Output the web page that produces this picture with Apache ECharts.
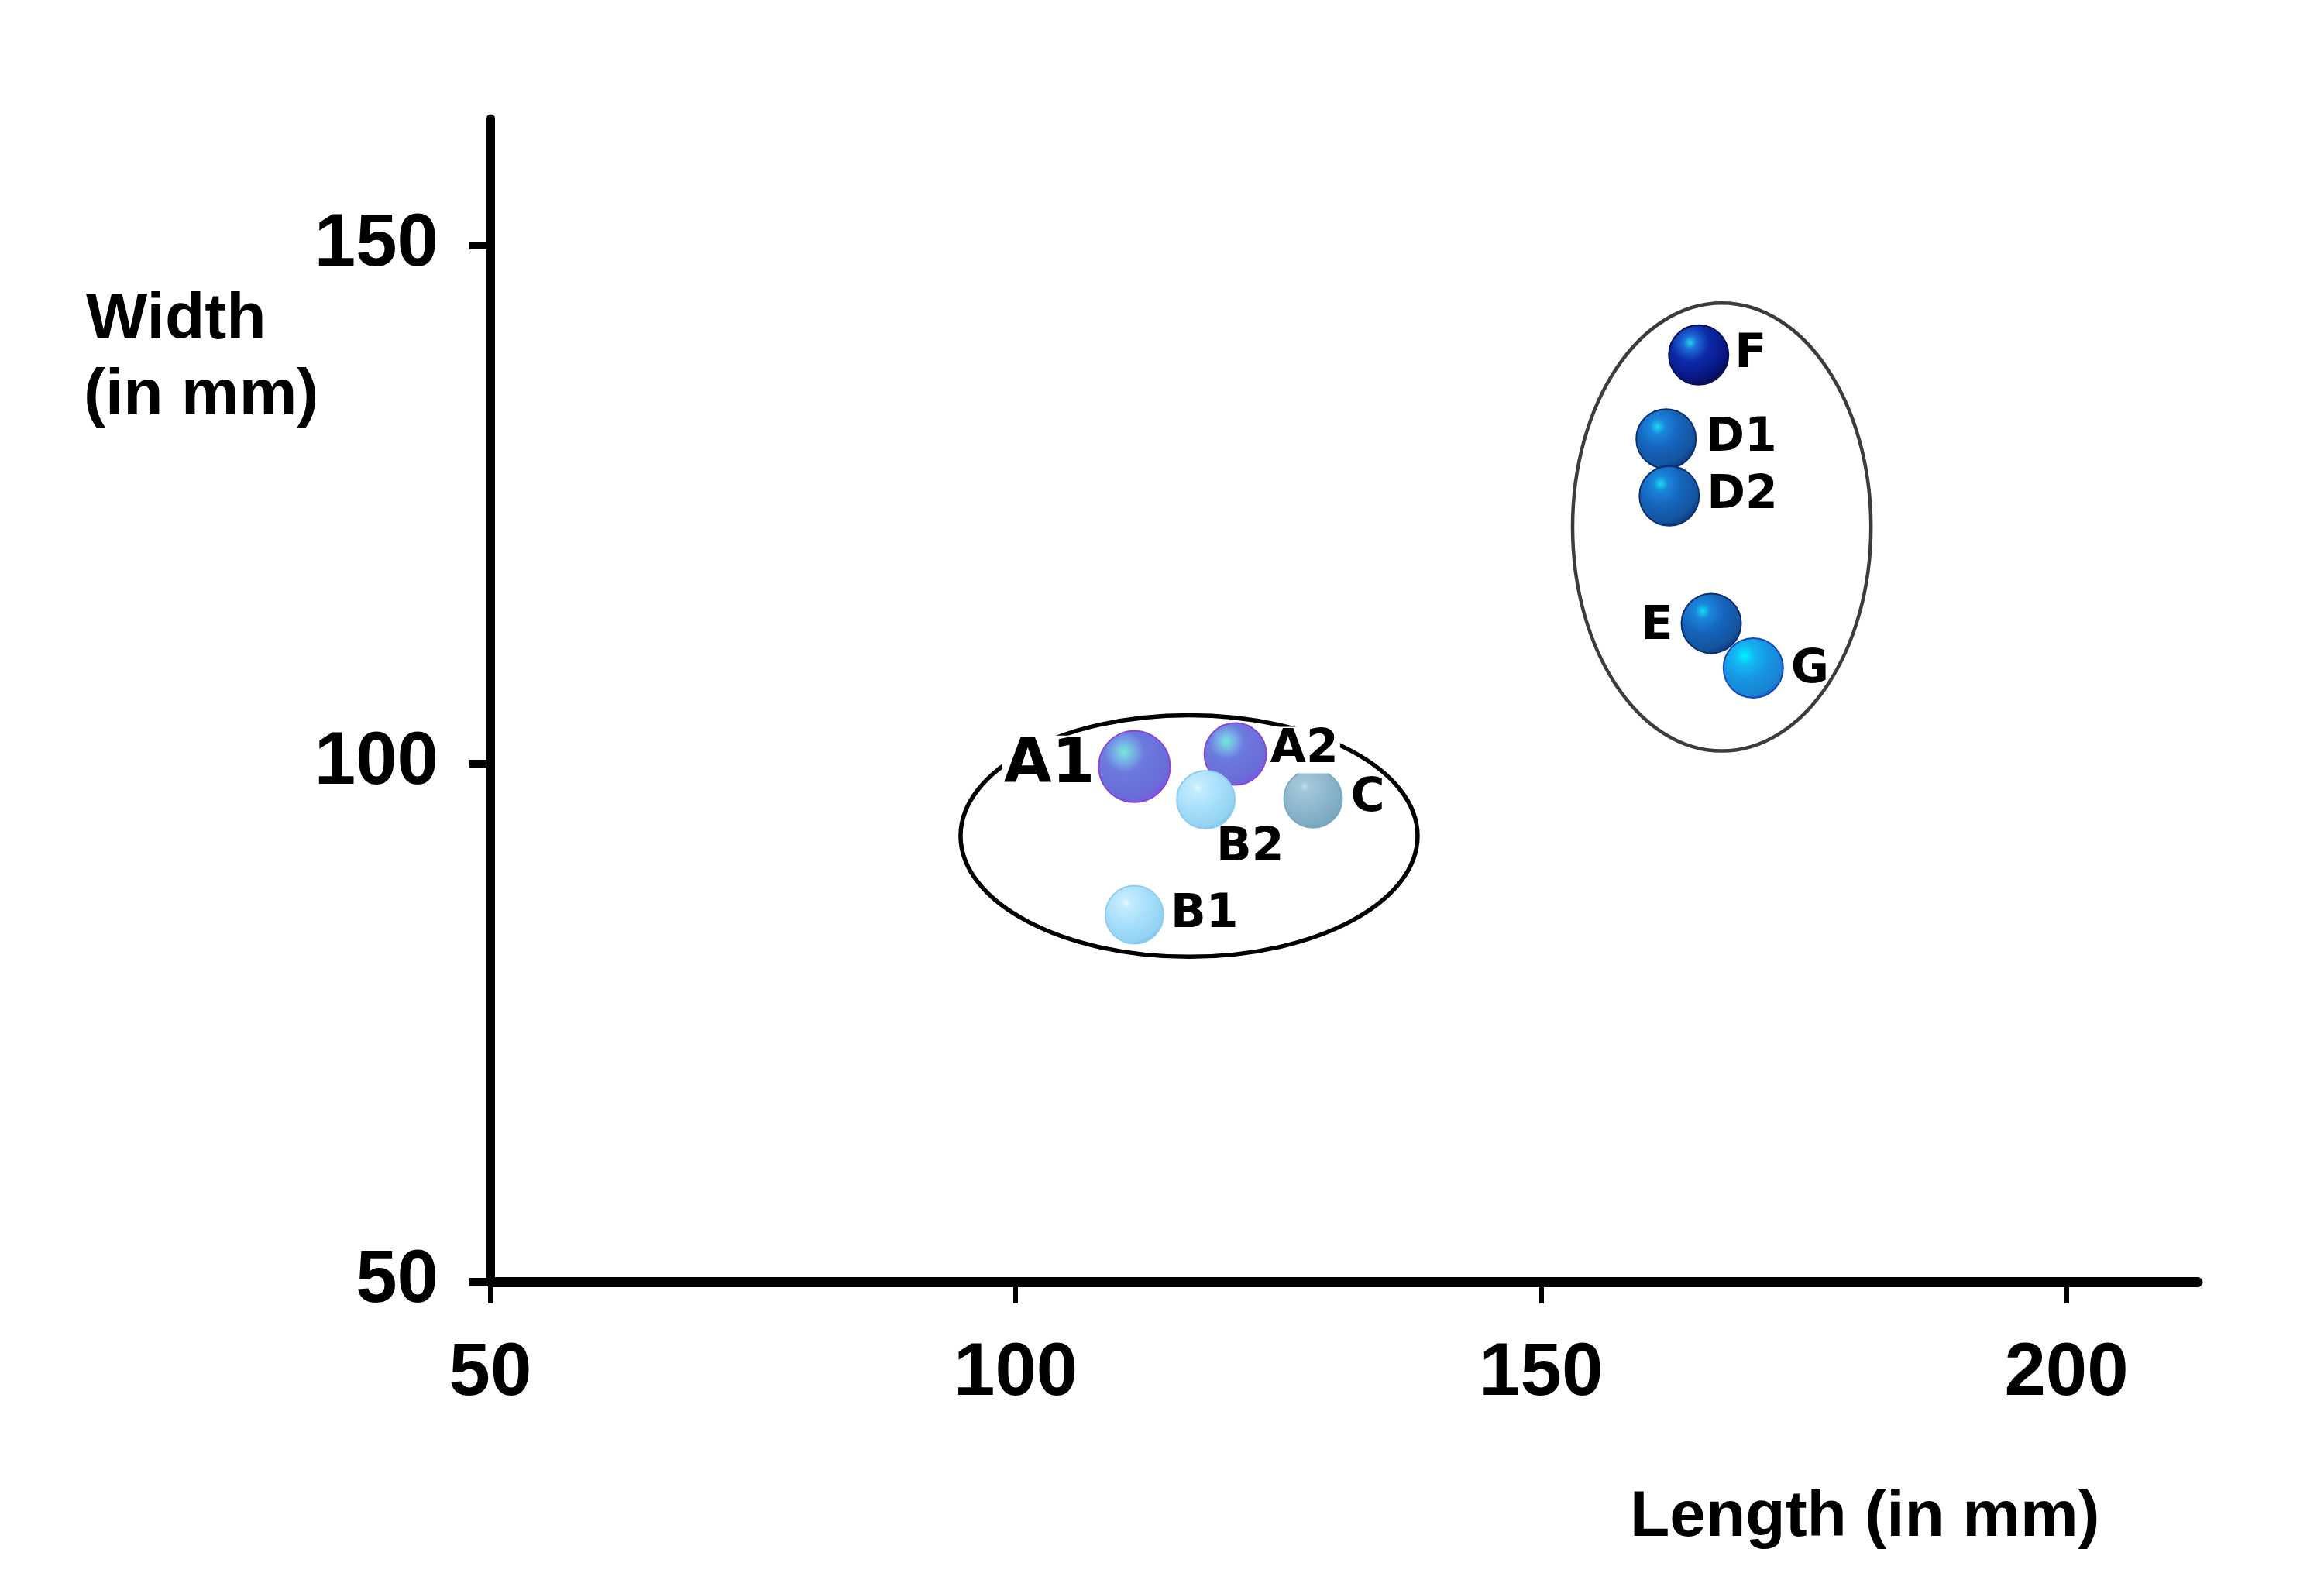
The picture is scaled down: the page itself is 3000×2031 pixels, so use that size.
<!DOCTYPE html>
<html>
<head>
<meta charset="utf-8">
<title>Length vs width</title>
<script src="https://cdn.jsdelivr.net/npm/echarts@6.0.0/dist/echarts.min.js"></script>
<style>
  html, body { margin: 0; padding: 0; background: #fff; }
  #chart { width: 3000px; height: 2031px; }
</style>
</head>
<body>
<div id="chart"></div>
<script>
// samples (mm)
const names   = ['A1', 'A2', 'B1', 'B2', 'C', 'D1', 'D2', 'E', 'F', 'G'];
const lengths = [111.3, 120.9, 111.3, 118.1, 128.3, 161.9, 162.2, 166.2, 165.0, 170.2];
const widths  = [99.7, 100.9, 85.4, 96.5, 96.6, 131.3, 125.8, 113.5, 139.4, 109.2];

const xTicks = [50, 100, 150, 200];
const yTicks = [50, 100, 150];

// group outlines: centre length, centre width, half length, half width
const groupCx = [116.5, 167.2];
const groupCy = [93.0, 122.8];
const groupRx = [21.75, 14.2];
const groupRy = [11.65, 21.6];

// look of each ball
function ball(stops) {
  return {
    type: 'radial', x: 0.36, y: 0.3, r: 0.78,
    colorStops: stops.map(function (s) { return { offset: s[0], color: s[1] }; })
  };
}
const purple = [[0, '#74e8d8'], [0.16, '#78b4e6'], [0.36, '#6c7ade'], [0.8, '#6a6cd8'], [0.93, '#7a5ade'], [1, '#9448e2']];
const light  = [[0, '#e6f8ff'], [0.1, '#c4ecff'], [0.5, '#a6defa'], [0.85, '#92d2f2'], [1, '#6cb6e0']];
const grey   = [[0, '#c2dde8'], [0.1, '#a2c8d8'], [0.6, '#88b4ca'], [0.9, '#78a8c0'], [1, '#5e92ae']];
const navy   = [[0, '#22d6e6'], [0.14, '#1c6cd6'], [0.4, '#0c2aa8'], [0.75, '#081682'], [1, '#030a3c']];
const blue   = [[0, '#18dcec'], [0.16, '#1a86dc'], [0.45, '#1664bc'], [0.8, '#13549e'], [1, '#0a2e6c']];
const bright = [[0, '#00f4ff'], [0.2, '#12b8f4'], [0.5, '#1696e2'], [0.85, '#1a82d2'], [1, '#1246b4']];

const look = {
  A1: { size: 92, fill: purple, rim: '#8a46dc' },
  A2: { size: 80, fill: purple, rim: '#8a46dc' },
  B1: { size: 75, fill: light, rim: '#8fcdef' },
  B2: { size: 75, fill: light, rim: '#8fcdef' },
  C:  { size: 75, fill: grey, rim: '#7aa8c0' },
  D1: { size: 77, fill: blue, rim: '#0c2f74' },
  D2: { size: 77, fill: blue, rim: '#0c2f74' },
  E:  { size: 77, fill: blue, rim: '#0c2f74' },
  F:  { size: 77, fill: navy, rim: '#06105a' },
  G:  { size: 77, fill: bright, rim: '#1448c0' }
};

const labelFont = { fontFamily: 'DejaVu Sans', fontWeight: 'bold', color: '#000' };
const tag = {
  A1: { position: 'left', distance: 2, fontSize: 80, backgroundColor: '#fff', padding: [0, 2] },
  A2: { position: 'right', distance: 2, fontSize: 60, backgroundColor: '#fff', padding: [0, 2], offset: [0, -5] },
  B1: { position: 'right', distance: 8, fontSize: 60 },
  B2: { position: 'inside', fontSize: 60, offset: [57, 63] },
  C:  { position: 'right', distance: 10, fontSize: 60 },
  D1: { position: 'right', distance: 12, fontSize: 60 },
  D2: { position: 'right', distance: 9, fontSize: 60 },
  E:  { position: 'left', distance: 10, fontSize: 60, offset: [0, 4] },
  F:  { position: 'right', distance: 7, fontSize: 60 },
  G:  { position: 'right', distance: 9, fontSize: 60, offset: [0, 3] }
};

const points = names.map(function (n, i) {
  return {
    name: n,
    value: [lengths[i], widths[i]],
    symbolSize: look[n].size,
    itemStyle: { color: ball(look[n].fill), borderColor: look[n].rim, borderWidth: 2, opacity: 1 },
    label: Object.assign({ show: true, formatter: n }, labelFont, tag[n])
  };
});

const groups = groupCx.map(function (cx, i) {
  return [cx, groupCy[i], groupRx[i], groupRy[i]];
});
const groupStroke = ['#000', '#3c3c3c'];
const groupWidth = [5.5, 4.5];

const tickFont = { fontFamily: 'Liberation Sans', fontWeight: 'bold', fontSize: 96, color: '#000' };
const nameFont = 'bold 84px "Liberation Sans"';

const chart = echarts.init(document.getElementById('chart'), null, { renderer: 'canvas' });
chart.setOption({
  animation: false,
  backgroundColor: '#fff',
  grid: { left: 633, top: 153, right: 163, bottom: 376, containLabel: false, outerBoundsMode: 'none' },
  xAxis: {
    type: 'value',
    min: 50,
    max: 212.5,
    interval: 50,
    splitLine: { show: false },
    axisLine: { show: true, onZero: false, lineStyle: { color: '#000', width: 13 } },
    axisTick: { show: true, length: 28, lineStyle: { color: '#000', width: 6 }, customValues: xTicks },
    axisLabel: Object.assign({ margin: 72, customValues: xTicks }, tickFont)
  },
  yAxis: {
    type: 'value',
    min: 50,
    max: 162.2,
    interval: 50,
    splitLine: { show: false },
    axisLine: { show: true, onZero: false, lineStyle: { color: '#000', width: 11 } },
    axisTick: { show: true, length: 27, lineStyle: { color: '#000', width: 10 }, customValues: yTicks },
    axisLabel: Object.assign({ margin: 67, customValues: yTicks }, tickFont)
  },
  graphic: [
    { type: 'text', left: 111, top: 372, style: { text: 'Width', font: nameFont, fill: '#000' } },
    { type: 'text', left: 108, top: 470, style: { text: '(in mm)', font: nameFont, fill: '#000' } },
    { type: 'text', left: 2104, top: 1918, style: { text: 'Length (in mm)', font: nameFont, fill: '#000' } }
  ],
  series: [
    {
      type: 'custom',
      z: 1,
      silent: true,
      clip: false,
      data: groups,
      renderItem: function (params, api) {
        const c = api.coord([api.value(0), api.value(1)]);
        const s = api.size([api.value(2), api.value(3)]);
        return {
          type: 'ellipse',
          shape: { cx: c[0], cy: c[1], rx: s[0], ry: s[1] },
          style: { fill: 'none', stroke: groupStroke[params.dataIndex], lineWidth: groupWidth[params.dataIndex] }
        };
      }
    },
    {
      type: 'scatter',
      z: 3,
      symbol: 'circle',
      data: points
    }
  ]
});
</script>
</body>
</html>
